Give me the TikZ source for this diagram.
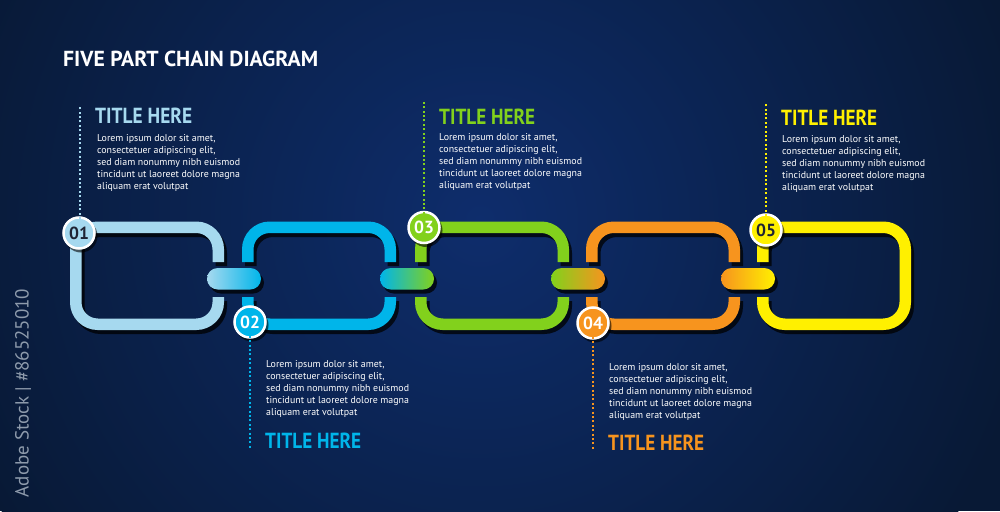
\documentclass[tikz,border=0pt]{standalone}
\usepackage{fontspec}
\setmainfont{PT Sans}
\usepackage{graphicx}
\definecolor{bgin}{HTML}{0E2D6C}
\definecolor{bgout}{HTML}{081935}
\definecolor{lb}{HTML}{A6D9EF}
\definecolor{cy}{HTML}{00B5EA}
\definecolor{gr}{HTML}{82D11C}
\definecolor{orc}{HTML}{F7941E}
\definecolor{ye}{HTML}{FFF000}
\definecolor{numdark}{HTML}{1F2333}
\definecolor{wm}{HTML}{8E9BAC}
\newcommand\linkA[3]{\draw[#3] (#2,297) -- (#2,324.25) -- (#1,324.25) -- (#1,227.25) -- (#2,227.25) -- (#2,262);}
\newcommand\linkB[3]{\draw[#3] (#1,262) -- (#1,227.25) -- (#2,227.25) -- (#2,262) (#2,297) -- (#2,324.25) -- (#1,324.25) -- (#1,297);}
\newcommand\linkC[3]{\draw[#3] (#1,262) -- (#1,227.25) -- (#2,227.25) -- (#2,324.25) -- (#1,324.25) -- (#1,297);}
\newcommand\pill[3]{%
  \fill[black,opacity=0.75,rounded corners=10.75pt] (#1-27+3,272) rectangle (#1+27+3,293.5);
  \shade[left color=#2,right color=#3,rounded corners=10.75pt] (#1-27,268) rectangle (#1+27,289.5);}
\newcommand\body{Lorem ipsum dolor sit amet,\\consectetuer adipiscing elit,\\sed diam nonummy nibh euismod\\tincidunt ut laoreet dolore magna\\aliquam erat volutpat}
\begin{document}
\begin{tikzpicture}[x=1pt,y=-1pt,
  linkline/.style={line width=11.5pt, rounded corners=22pt},
  lshadow/.style={linkline, draw=black, draw opacity=0.75, shift={(3,4)}},
  numc/.style={circle, draw=white, line width=2.5pt, minimum size=31pt, inner sep=0pt},
  dotl/.style={line width=2.4pt, dash pattern=on 2pt off 2.4pt},
  ttl/.style={anchor=base west, inner sep=0pt},
  bodyt/.style={anchor=north west, inner sep=0pt, align=left, text=white,
    font=\fontsize{9.9}{12}\selectfont},
]
\useasboundingbox (0,0) rectangle (1000,511);
\fill[bgout] (0,0) rectangle (1000,511);
\begin{scope}
\clip (0,0) rectangle (1000,511);
\shade[inner color=bgin, outer color=bgout] (480,220) circle (560);
\end{scope}
% watermark side text
\node[rotate=90, text=wm, font=\fontsize{19}{19}\selectfont, inner sep=0pt] (wmk) at (23,393) {Adobe Stock | \#86525010};
% header
\node[ttl, text=white] (hdr) at (63,66.5) {\resizebox{255pt}{15.5pt}{\bfseries FIVE PART CHAIN DIAGRAM}};
% link shadows
\linkA{75.75}{218.25}{lshadow}
\linkB{247.75}{390.25}{lshadow}
\linkB{420.75}{563.25}{lshadow}
\linkB{591.75}{734.25}{lshadow}
\linkC{762.75}{905.25}{lshadow}
% links
\linkA{75.75}{218.25}{linkline, draw=lb}
\linkB{247.75}{390.25}{linkline, draw=cy}
\linkB{420.75}{563.25}{linkline, draw=gr}
\linkB{591.75}{734.25}{linkline, draw=orc}
\linkC{762.75}{905.25}{linkline, draw=ye}
% pills
\pill{234}{lb}{cy}
\pill{407}{cy}{gr}
\pill{578}{gr}{orc}
\pill{748}{orc}{ye}
% circle shadows
\foreach \x/\y in {79/233, 250/322, 424/227.5, 593/323, 766/230}
  \fill[black, opacity=0.6] (\x+2,\y+3) circle (16.5);
% circles
\node[numc, fill=lb, text=numdark] (c1) at (79,233) {\resizebox{!}{12.5pt}{\bfseries 01}};
\node[numc, fill=cy, text=white] (c2) at (250,322) {\resizebox{!}{12.5pt}{\bfseries 02}};
\node[numc, fill=gr, text=white] (c3) at (424,227.5) {\resizebox{!}{12.5pt}{\bfseries 03}};
\node[numc, fill=orc, text=white] (c4) at (593,323) {\resizebox{!}{12.5pt}{\bfseries 04}};
\node[numc, fill=ye, text=numdark] (c5) at (766,230) {\resizebox{!}{12.5pt}{\bfseries 05}};
% dotted lines
\coordinate (d1) at (80,106);
\coordinate (d2) at (250,448);
\coordinate (d3) at (424,100);
\coordinate (d4) at (593,450);
\coordinate (d5) at (766,102);
\draw[dotl, lb] ([xshift=1pt,yshift=-3pt]c1.north) -- (d1);
\draw[dotl, cy] ([yshift=3pt]c2.south) -- (d2);
\draw[dotl, gr] ([yshift=-3pt]c3.north) -- (d3);
\draw[dotl, orc] ([yshift=3pt]c4.south) -- (d4);
\draw[dotl, ye] ([yshift=-3pt]c5.north) -- (d5);
% titles
\node[ttl, text=lb] (t1) at (95,123.5) {\resizebox{97pt}{15.5pt}{\bfseries TITLE HERE}};
\node[ttl, text=cy] (t2) at (265,448) {\resizebox{96pt}{15.5pt}{\bfseries TITLE HERE}};
\node[ttl, text=gr] (t3) at (439,124) {\resizebox{96pt}{15.5pt}{\bfseries TITLE HERE}};
\node[ttl, text=orc] (t4) at (608,450) {\resizebox{96pt}{15.5pt}{\bfseries TITLE HERE}};
\node[ttl, text=ye] (t5) at (781,125) {\resizebox{96pt}{15.5pt}{\bfseries TITLE HERE}};
% body texts
\node[bodyt] (b1) at (97,134) {\body};
\node[bodyt] (b2) at (266,360) {\body};
\node[bodyt] (b3) at (439,133.5) {\body};
\node[bodyt] (b4) at (609,363) {\body};
\node[bodyt] (b5) at (782,135) {\body};
\end{tikzpicture}
\end{document}
